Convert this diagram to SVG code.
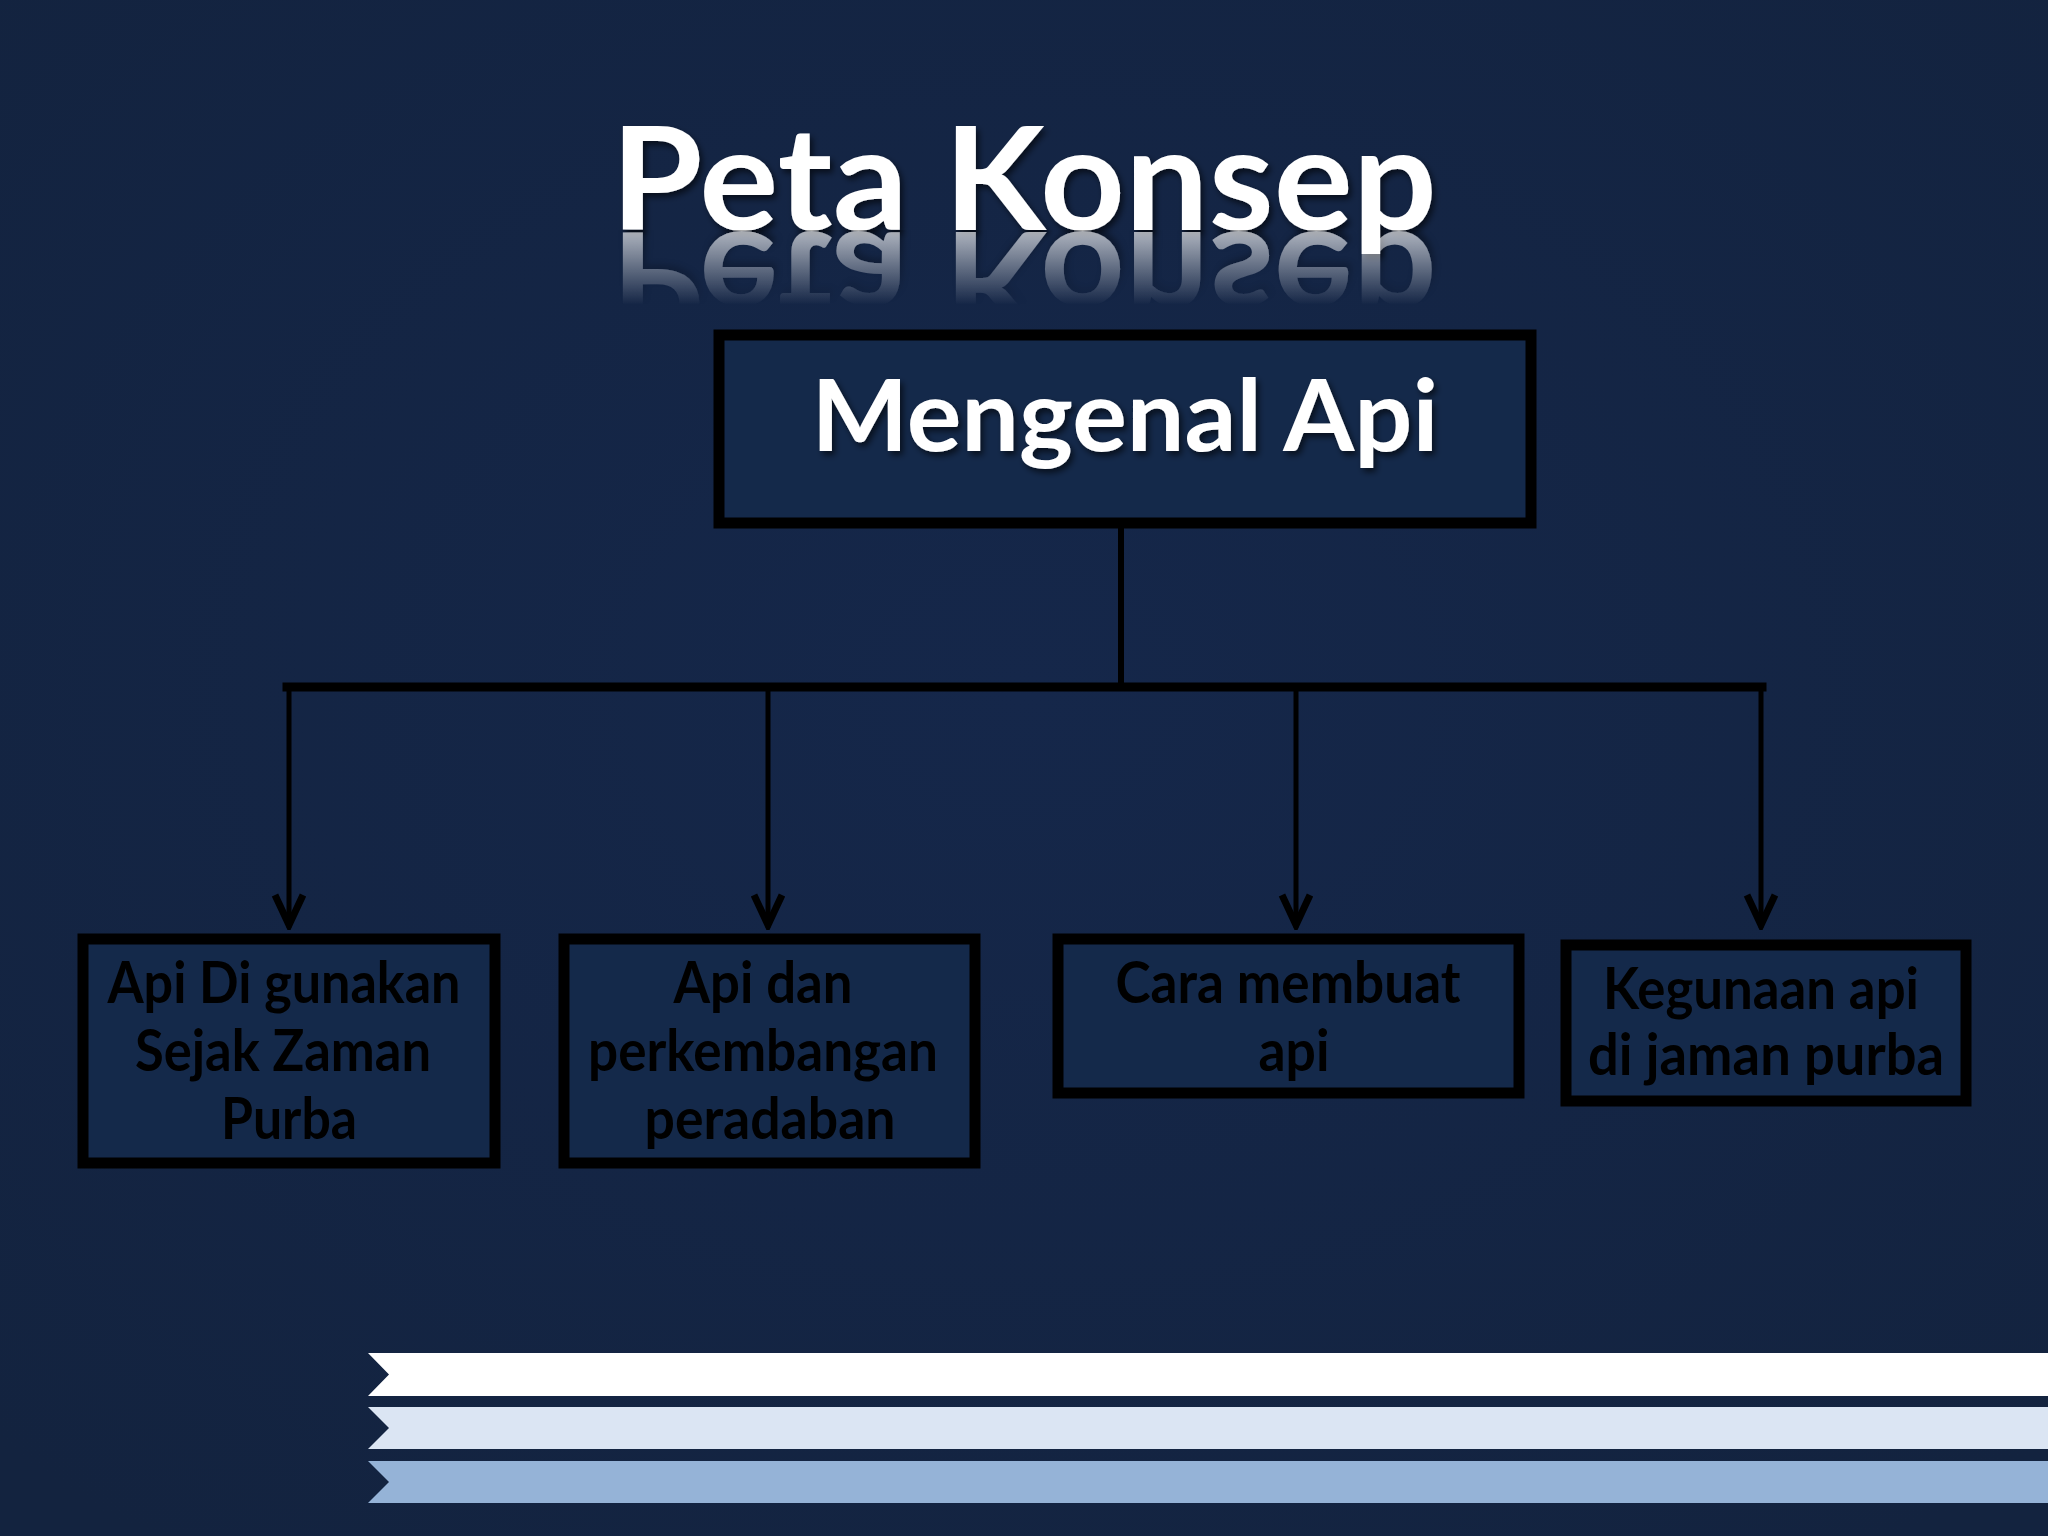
<svg xmlns="http://www.w3.org/2000/svg" xmlns:xlink="http://www.w3.org/1999/xlink" width="2048" height="1536" viewBox="0 0 2048 1536">
<defs>
<style>
.title{font-family:Lato,"Liberation Sans",sans-serif;font-weight:bold;fill:#ffffff}
.box{fill:#14294a;stroke:#000;stroke-width:11}
.lbl{font-family:Lato,"Liberation Sans",sans-serif;font-weight:bold;font-size:58px;fill:#000;text-anchor:middle}
.conn{stroke:#000;fill:none;stroke-linecap:square}
</style>
<linearGradient id="fadeG" gradientUnits="userSpaceOnUse" x1="0" y1="232" x2="0" y2="305">
<stop offset="0" stop-color="#fff" stop-opacity="0.65"/>
<stop offset="1" stop-color="#fff" stop-opacity="0"/>
</linearGradient>
<mask id="fade" maskUnits="userSpaceOnUse" x="0" y="230" width="2048" height="90">
<rect x="0" y="230" width="2048" height="90" fill="url(#fadeG)"/>
</mask>
<filter id="shadow" x="-10%" y="-10%" width="120%" height="130%">
<feDropShadow dx="3" dy="4" stdDeviation="3" flood-color="#000" flood-opacity="0.6"/>
</filter>
<marker id="arr" markerUnits="userSpaceOnUse" viewBox="0 0 40 40" refX="35" refY="20" markerWidth="40" markerHeight="40" orient="auto">
<path d="M5 6 L35 20 L5 34" fill="none" stroke="#000" stroke-width="7" stroke-linejoin="miter"/>
</marker>
<radialGradient id="bg" cx="0.5" cy="0.45" r="0.7">
<stop offset="0" stop-color="#15274a"/>
<stop offset="1" stop-color="#13233f"/>
</radialGradient>
</defs>
<rect width="2048" height="1536" fill="url(#bg)"/>

<g id="title">
<text id="titleText" class="title" x="611" y="230" font-size="144" textLength="826" lengthAdjust="spacingAndGlyphs" filter="url(#shadow)">Peta Konsep</text>
<g mask="url(#fade)">
<use xlink:href="#titleText" href="#titleText" transform="translate(0,462) scale(1,-1)"/>
</g>
</g>

<g id="connectors">
<line class="conn" x1="1121" y1="528" x2="1121" y2="687" stroke-width="6"/>
<line class="conn" x1="287" y1="687" x2="1762" y2="687" stroke-width="9"/>
<line class="conn" x1="289" y1="687" x2="289" y2="925" stroke-width="5" marker-end="url(#arr)"/>
<line class="conn" x1="768" y1="687" x2="768" y2="925" stroke-width="5" marker-end="url(#arr)"/>
<line class="conn" x1="1296" y1="687" x2="1296" y2="925" stroke-width="5" marker-end="url(#arr)"/>
<line class="conn" x1="1761" y1="687" x2="1761" y2="925" stroke-width="5" marker-end="url(#arr)"/>
</g>

<g id="root">
<rect class="box" x="719" y="335" width="812" height="188"/>
<text class="title" x="1125" y="451" font-size="100" text-anchor="middle" textLength="627" lengthAdjust="spacingAndGlyphs" filter="url(#shadow)">Mengenal Api</text>
</g>

<g id="node1">
<rect class="box" x="83" y="939" width="412" height="224"/>
<text class="lbl" x="284" y="1003" textLength="353" lengthAdjust="spacingAndGlyphs">Api Di gunakan</text>
<text class="lbl" x="283" y="1071" textLength="296" lengthAdjust="spacingAndGlyphs">Sejak Zaman</text>
<text class="lbl" x="289" y="1139" textLength="136" lengthAdjust="spacingAndGlyphs">Purba</text>
</g>

<g id="node2">
<rect class="box" x="564" y="939" width="411" height="224"/>
<text class="lbl" x="763" y="1003" textLength="179" lengthAdjust="spacingAndGlyphs">Api dan</text>
<text class="lbl" x="763" y="1071" textLength="350" lengthAdjust="spacingAndGlyphs">perkembangan</text>
<text class="lbl" x="770" y="1139" textLength="251" lengthAdjust="spacingAndGlyphs">peradaban</text>
</g>

<g id="node3">
<rect class="box" x="1058" y="939" width="461" height="154"/>
<text class="lbl" x="1288" y="1003" textLength="345" lengthAdjust="spacingAndGlyphs">Cara membuat</text>
<text class="lbl" x="1294" y="1071" textLength="71" lengthAdjust="spacingAndGlyphs">api</text>
</g>

<g id="node4">
<rect class="box" x="1566" y="945" width="400" height="156"/>
<text class="lbl" x="1761" y="1009" textLength="316" lengthAdjust="spacingAndGlyphs">Kegunaan api</text>
<text class="lbl" x="1766" y="1075" textLength="356" lengthAdjust="spacingAndGlyphs">di jaman purba</text>
</g>

<g id="stripes">
<polygon points="368,1353 2048,1353 2048,1396 368,1396 389,1374.5" fill="#ffffff"/>
<polygon points="368,1407 2048,1407 2048,1449 368,1449 389,1428" fill="#dbe5f3"/>
<polygon points="368,1461 2048,1461 2048,1503 368,1503 389,1482" fill="#95b3d7"/>
</g>
</svg>
